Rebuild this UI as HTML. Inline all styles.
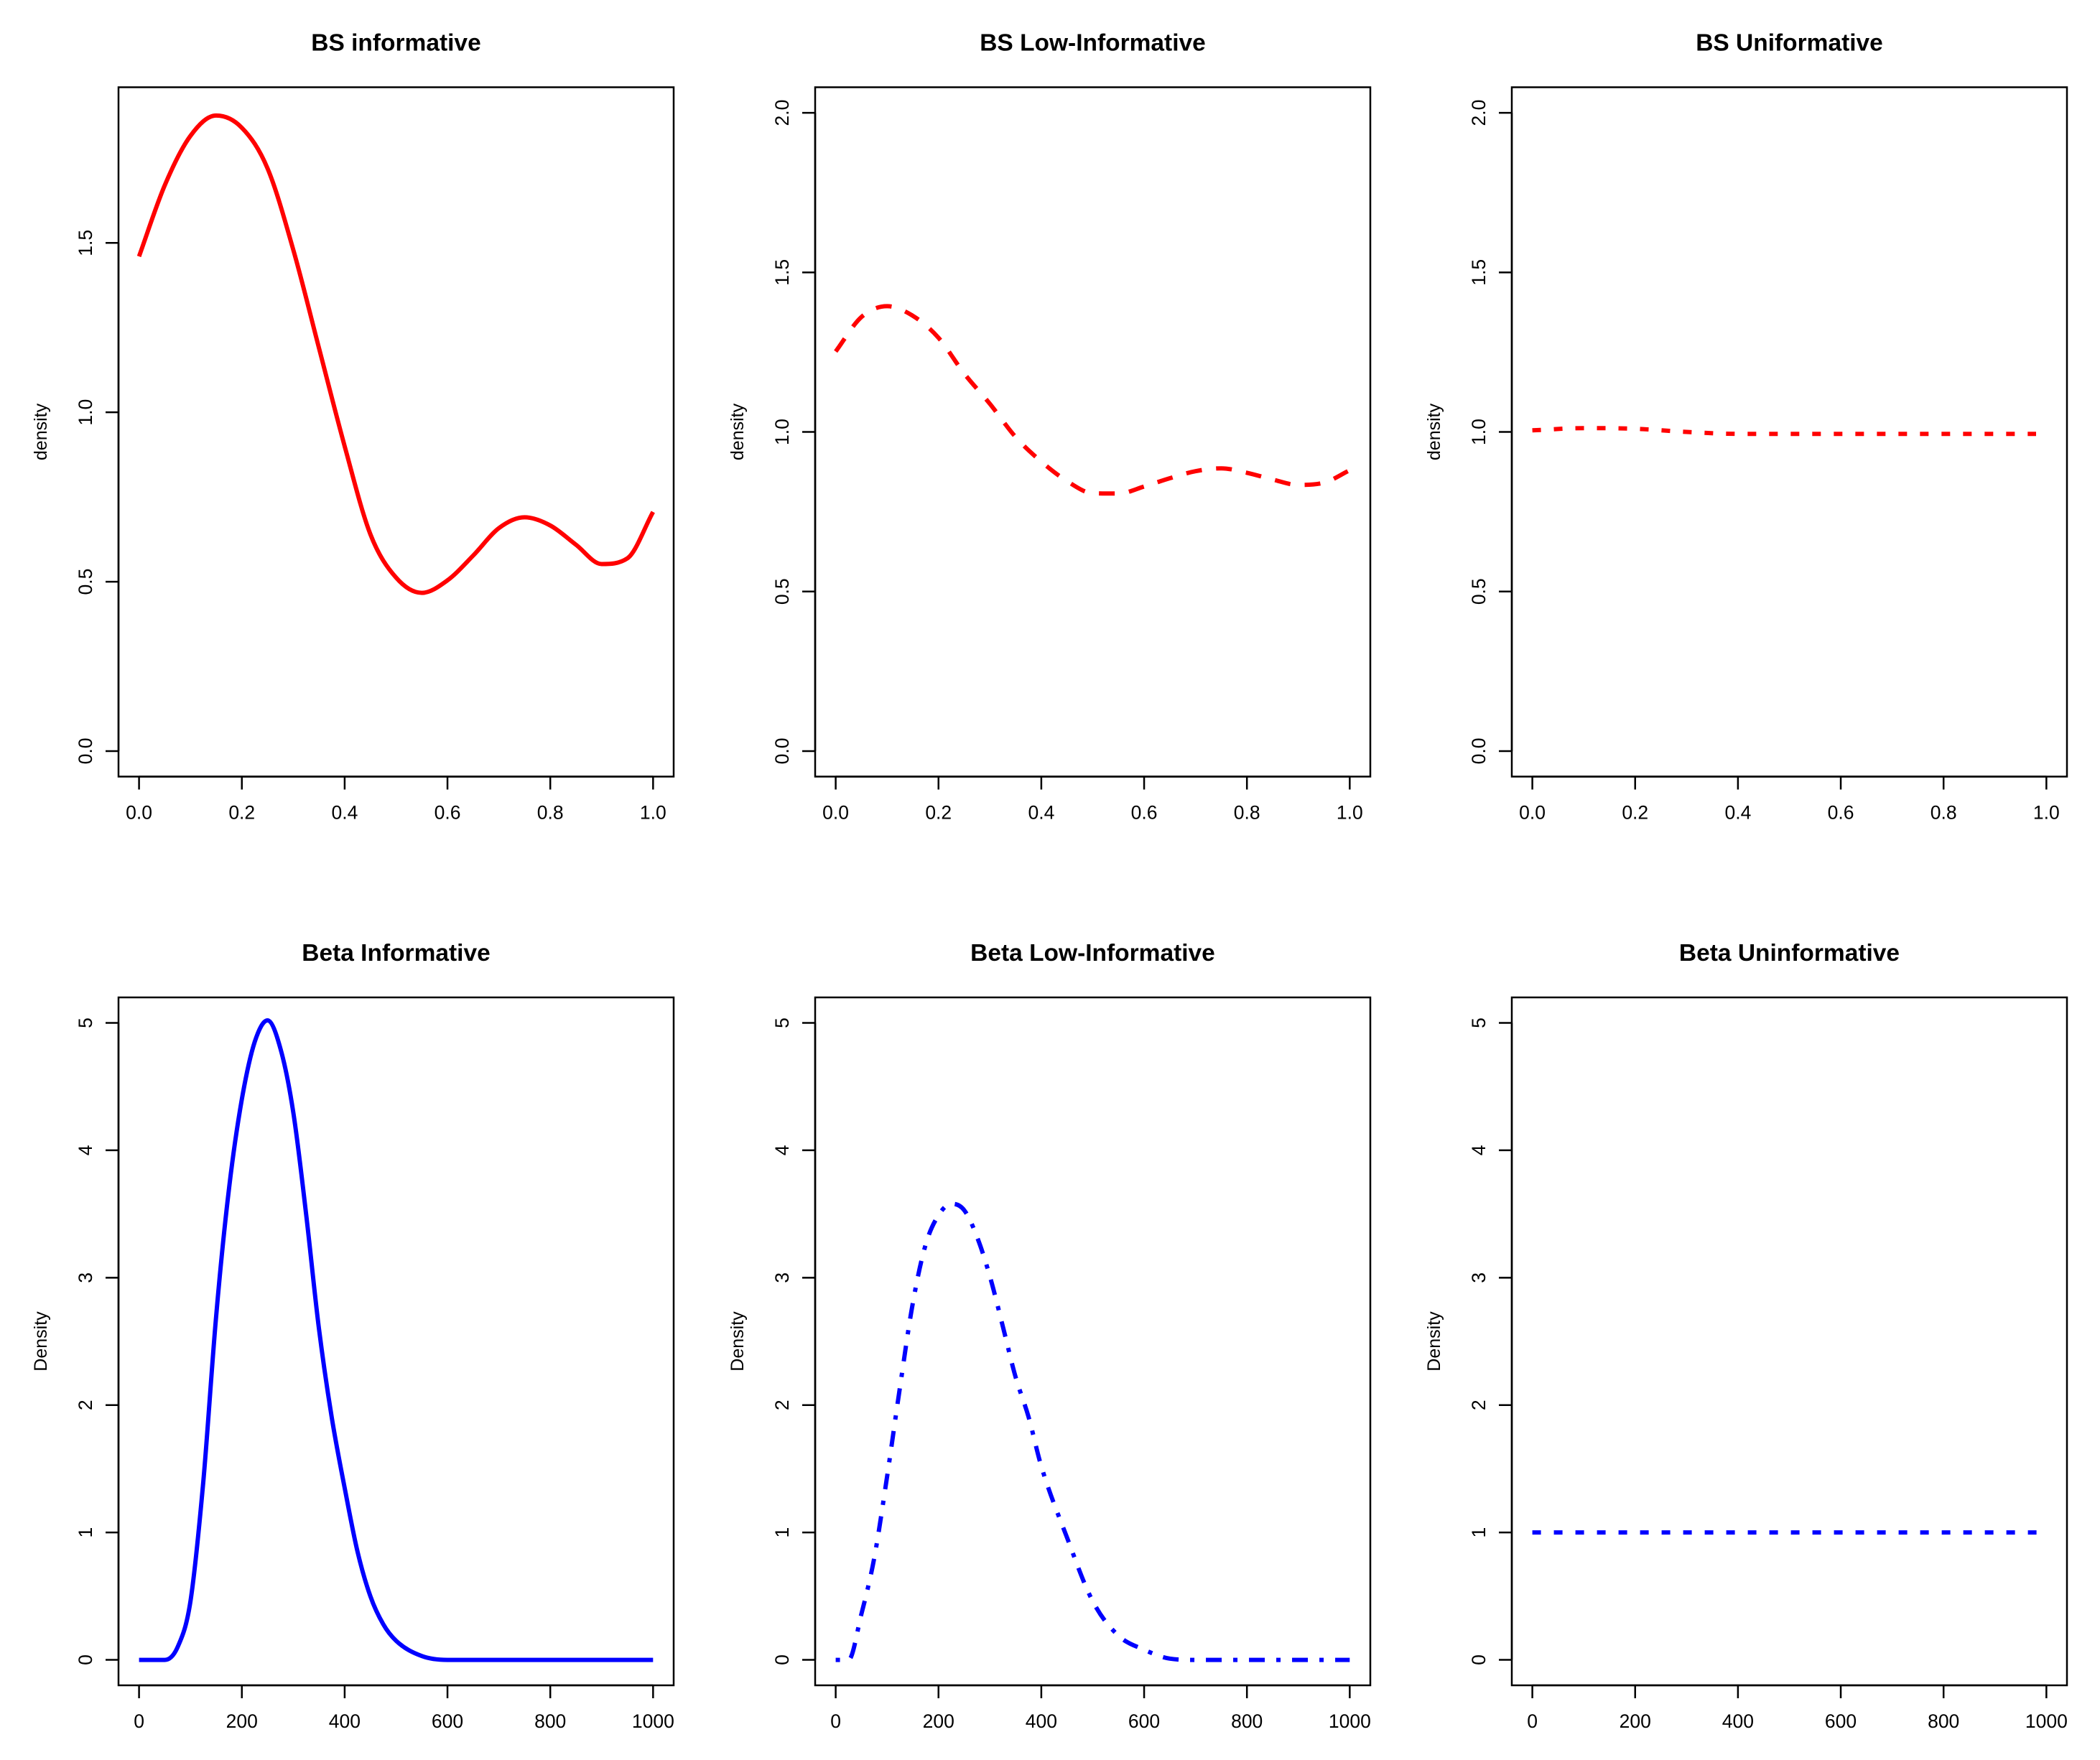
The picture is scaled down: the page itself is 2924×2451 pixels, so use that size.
<!DOCTYPE html>
<html><head><meta charset="utf-8"><style>
html,body{margin:0;padding:0;background:#fff;}
svg{display:block;font-family:"Liberation Sans",Arial,sans-serif;}
</style></head><body>
<svg id="chart" width="2924" height="2451" viewBox="0 0 2924 2451" xmlns="http://www.w3.org/2000/svg"></svg>
<script>
// ---- data ----
const bsX = [0,0.05,0.1,0.15,0.2,0.25,0.3,0.35,0.4,0.45,0.5,0.55,0.6,0.65,0.7,0.75,0.8,0.85,0.9,0.95,1.0];
const bsInformative = [1.46,1.67,1.816,1.876,1.84,1.72,1.48,1.19,0.90,0.64,0.512,0.467,0.504,0.577,0.658,0.69,0.666,0.609,0.552,0.569,0.706];
const bsLowInformative = [1.252,1.36,1.394,1.364,1.295,1.183,1.088,0.984,0.907,0.846,0.808,0.807,0.829,0.855,0.877,0.886,0.872,0.851,0.834,0.841,0.88];
const bsUnifX = [0,0.1,0.2,0.3,0.4,0.5,0.6,0.7,0.8,0.9,0.98];
const bsUninformative = [1.005,1.012,1.01,1.0,0.994,0.994,0.994,0.994,0.994,0.994,0.994];
const betaInfX = [0,50,75,100,125,150,175,200,225,250,275,300,325,350,375,400,425,450,475,500,550,600,700,800,900,1000];
const betaInformative = [0,0.0,0.1,0.46,1.4,2.7,3.7,4.4,4.85,5.02,4.8,4.3,3.5,2.6,1.9,1.35,0.85,0.5,0.28,0.15,0.03,0,0,0,0,0];
const betaLowX = [0,25,50,75,100,125,150,175,200,225,250,275,300,325,350,375,400,450,500,550,600,650,700,800,900,1000];
const betaLowInformative = [0,0,0.36,0.8,1.44,2.14,2.8,3.26,3.49,3.58,3.53,3.32,3.01,2.62,2.22,1.91,1.52,0.96,0.46,0.19,0.08,0.01,0,0,0,0];
const betaUnifX = [0,250,500,750,1000];
const betaUninformative = [1,1,1,1,1];
const xTicksTop = [0,0.2,0.4,0.6,0.8,1.0];
const xTickLabelsTop = ["0.0","0.2","0.4","0.6","0.8","1.0"];
const xTicksBottom = [0,200,400,600,800,1000];
const yTicksBS1 = [0,0.5,1.0,1.5];
const yTicksBS = [0,0.5,1.0,1.5,2.0];
const yTicksBeta = [0,1,2,3,4,5];

const svg = document.getElementById('chart');
const NS = 'http://www.w3.org/2000/svg';
function mk(tag, attrs, parent){const e=document.createElementNS(NS,tag);for(const k in attrs)e.setAttribute(k,attrs[k]);(parent||svg).appendChild(e);return e;}

// monotone cubic (Fritsch-Carlson) path
function smoothPath(pts){
  const n=pts.length;
  const dx=[],s=[];
  for(let i=0;i<n-1;i++){dx[i]=pts[i+1][0]-pts[i][0];s[i]=(pts[i+1][1]-pts[i][1])/dx[i];}
  const m=[s[0]];
  for(let i=1;i<n-1;i++){ m[i]=(s[i-1]*s[i]<=0)?0:(s[i-1]+s[i])/2; }
  m[n-1]=s[n-2];
  for(let i=0;i<n-1;i++){
    if(s[i]===0){m[i]=0;m[i+1]=0;continue;}
    const a=m[i]/s[i],b=m[i+1]/s[i],h=a*a+b*b;
    if(h>9){const t=3/Math.sqrt(h);m[i]=t*a*s[i];m[i+1]=t*b*s[i];}
  }
  let d='M'+pts[0][0].toFixed(1)+','+pts[0][1].toFixed(1);
  for(let i=0;i<n-1;i++){
    const h=dx[i]/3;
    d+=' C'+(pts[i][0]+h).toFixed(1)+','+(pts[i][1]+m[i]*h).toFixed(1)+' '+(pts[i+1][0]-h).toFixed(1)+','+(pts[i+1][1]-m[i+1]*h).toFixed(1)+' '+pts[i+1][0].toFixed(1)+','+pts[i+1][1].toFixed(1);
  }
  return d;
}

function panel(o){
  const g = mk('g',{});
  
  
  const L=o.left, T=o.top, W=773, H=o.h, B=T+H;
  const xs = v => L + W*0.037 + (v-o.xmin)/(o.xmax-o.xmin)*(W/1.08);
  const ys = v => B - H*0.037 - (v-o.ymin)/(o.ymax-o.ymin)*(H/1.08);
  const title = mk('text',{x:L+W/2,y:T-51,'text-anchor':'middle','font-size':33.5,'font-weight':'bold',fill:'#000'},g);
  title.textContent=o.title;
  
  
  const box = mk('rect',{x:L,y:T,width:W,height:H,fill:'none',stroke:'#000','stroke-width':2.5},g);
  
  
  const xa = mk('g',{},g);
  
  
  mk('line',{x1:xs(o.xticks[0]),x2:xs(o.xticks[o.xticks.length-1]),y1:B,y2:B,stroke:'#000','stroke-width':2.5},xa);
  o.xticks.forEach((t,i)=>{
    mk('line',{x1:xs(t),x2:xs(t),y1:B,y2:B+18,stroke:'#000','stroke-width':2.5},xa);
    const tx=mk('text',{x:xs(t),y:B+59,'text-anchor':'middle','font-size':26.5,fill:'#000'},xa);
    tx.textContent=o.xlabels[i];
    
    
  });
  const ya = mk('g',{},g);
  
  
  mk('line',{x1:L,x2:L,y1:ys(o.yticks[0]),y2:ys(o.yticks[o.yticks.length-1]),stroke:'#000','stroke-width':2.5},ya);
  o.yticks.forEach(t=>{
    mk('line',{x1:L-18,x2:L,y1:ys(t),y2:ys(t),stroke:'#000','stroke-width':2.5},ya);
    const ty=mk('text',{x:0,y:0,'text-anchor':'middle','font-size':26.5,fill:'#000',transform:'translate('+(L-37)+','+ys(t)+') rotate(-90)'},ya);
    ty.textContent=o.yfmt(t);
    
    
  });
  const yl=mk('text',{x:0,y:0,'text-anchor':'middle','font-size':25,fill:'#000',transform:'translate('+(L-100)+','+(T+H/2)+') rotate(-90)'},g);
  yl.textContent=o.ylab;
  
  
  const pts = o.x.map((v,i)=>[xs(v),ys(o.y[i])]);
  const p = mk('path',{d:smoothPath(pts),fill:'none',stroke:o.color,'stroke-width':6,'stroke-linejoin':'round'},g);
  if(o.dash) p.setAttribute('stroke-dasharray',o.dash);
  
  
}

const f1 = t=>t.toFixed(1);
const f0 = t=>String(t);
const topY=121.5, topH=960, botY=1389, botH=958;
const lefts=[165,1135,2105];

panel({name:'panel-bs-informative',title:'BS informative',left:lefts[0],top:topY,h:topH,xmin:0,xmax:1,ymin:0,ymax:1.884,xticks:xTicksTop,xlabels:xTickLabelsTop,yticks:yTicksBS1,yfmt:f1,ylab:'density',x:bsX,y:bsInformative,color:'#ff0000',dash:null});
panel({name:'panel-bs-low-informative',title:'BS Low-Informative',left:lefts[1],top:topY,h:topH,xmin:0,xmax:1,ymin:0,ymax:2,xticks:xTicksTop,xlabels:xTickLabelsTop,yticks:yTicksBS,yfmt:f1,ylab:'density',x:bsX,y:bsLowInformative,color:'#ff0000',dash:'22 20'});
panel({name:'panel-bs-uninformative',title:'BS Uniformative',left:lefts[2],top:topY,h:topH,xmin:0,xmax:1,ymin:0,ymax:2,xticks:xTicksTop,xlabels:xTickLabelsTop,yticks:yTicksBS,yfmt:f1,ylab:'density',x:bsUnifX,y:bsUninformative,color:'#ff0000',dash:'12 18'});
panel({name:'panel-beta-informative',title:'Beta Informative',left:lefts[0],top:botY,h:botH,xmin:0,xmax:1000,ymin:0,ymax:5,xticks:xTicksBottom,xlabels:xTicksBottom.map(String),yticks:yTicksBeta,yfmt:f0,ylab:'Density',x:betaInfX,y:betaInformative,color:'#0000ff',dash:null});
panel({name:'panel-beta-low-informative',title:'Beta Low-Informative',left:lefts[1],top:botY,h:botH,xmin:0,xmax:1000,ymin:0,ymax:5,xticks:xTicksBottom,xlabels:xTicksBottom.map(String),yticks:yTicksBeta,yfmt:f0,ylab:'Density',x:betaLowX,y:betaLowInformative,color:'#0000ff',dash:'6 16 22 16'});
panel({name:'panel-beta-uninformative',title:'Beta Uninformative',left:lefts[2],top:botY,h:botH,xmin:0,xmax:1000,ymin:0,ymax:5,xticks:xTicksBottom,xlabels:xTicksBottom.map(String),yticks:yTicksBeta,yfmt:f0,ylab:'Density',x:betaUnifX,y:betaUninformative,color:'#0000ff',dash:'12 18'});
</script>
</body></html>
